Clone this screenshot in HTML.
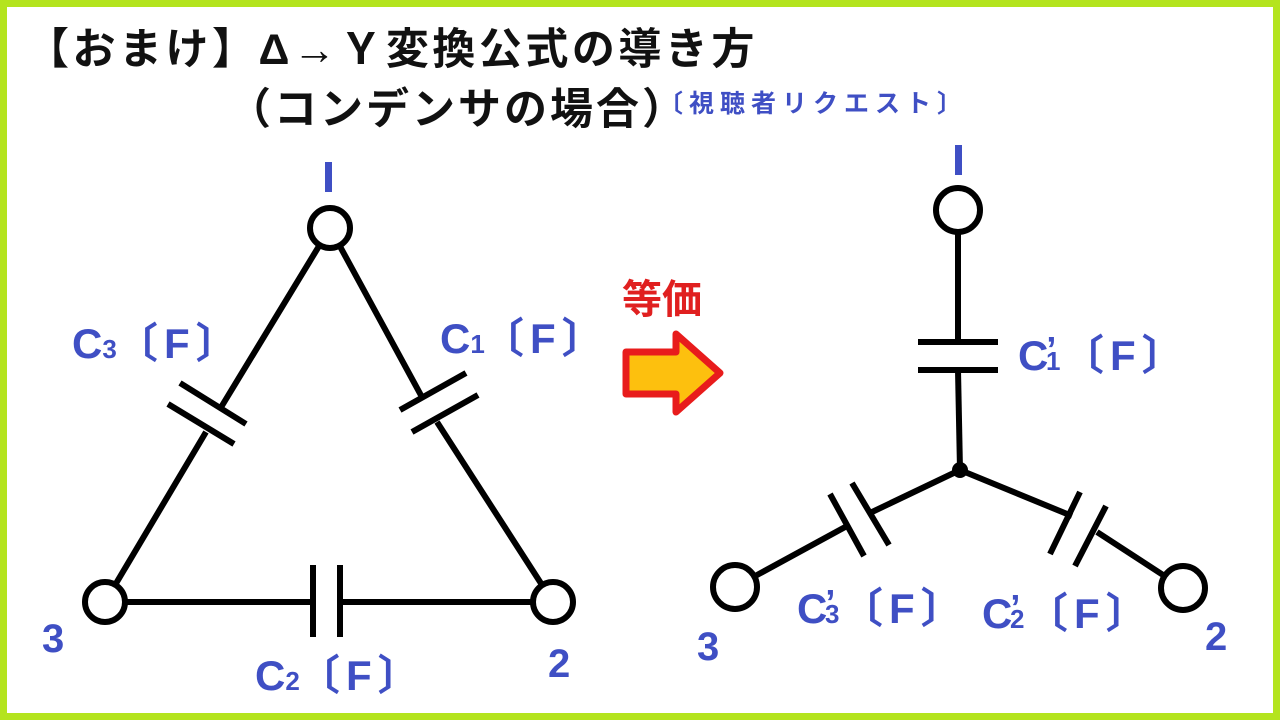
<!DOCTYPE html>
<html><head><meta charset="utf-8"><style>
body{margin:0;width:1280px;height:720px;overflow:hidden;background:#fff}
svg{display:block}
text{font-family:"Liberation Sans","Noto Sans CJK JP",sans-serif;font-weight:bold}
.b{fill:#3f4fc4}
</style></head><body>
<svg width="1280" height="720" viewBox="0 0 1280 720">
<rect x="3.5" y="3.5" width="1273" height="713" fill="#fff" stroke="#b4e41e" stroke-width="7"/>
<text x="26" y="64" font-size="43" letter-spacing="3.5" fill="#111">【おまけ】Δ→Ｙ変換公式の導き方</text>
<text x="228" y="124" font-size="43" letter-spacing="3" fill="#111">（コンデンサの場合）</text>
<text x="658" y="112" font-size="25" letter-spacing="6" class="b">〔視聴者リクエスト〕</text>
<g stroke="#000" stroke-width="6" fill="none" stroke-linecap="butt">
<line x1="330" y1="228" x2="220" y2="409"/><line x1="206" y1="432" x2="105" y2="602"/>
<line x1="180" y1="383" x2="246" y2="424"/><line x1="168" y1="404" x2="234" y2="444"/>
<line x1="330" y1="228" x2="423" y2="399"/><line x1="437" y1="422" x2="553" y2="602"/>
<line x1="400" y1="410" x2="466" y2="373"/><line x1="412" y1="432" x2="478" y2="395"/>
<line x1="105" y1="602" x2="313" y2="602"/><line x1="340" y1="602" x2="553" y2="602"/>
<line x1="313" y1="565" x2="313" y2="637"/><line x1="340" y1="565" x2="340" y2="637"/>
<circle cx="330" cy="228" r="20" fill="#fff"/>
<circle cx="105" cy="602" r="20" fill="#fff"/>
<circle cx="553" cy="602" r="20" fill="#fff"/>
<line x1="958" y1="210" x2="958" y2="342"/><line x1="958" y1="370" x2="960" y2="470"/>
<line x1="918" y1="342" x2="998" y2="342"/><line x1="918" y1="370" x2="998" y2="370"/>
<line x1="960" y1="470" x2="872" y2="512"/><line x1="847" y1="526" x2="735" y2="587"/>
<line x1="830" y1="494" x2="864" y2="556"/><line x1="852" y1="483" x2="889" y2="545"/>
<line x1="960" y1="470" x2="1072" y2="516"/><line x1="1097" y1="532" x2="1183" y2="588"/>
<line x1="1080" y1="492" x2="1050" y2="554"/><line x1="1106" y1="506" x2="1075" y2="566"/>
<circle cx="958" cy="210" r="22" fill="#fff"/>
<circle cx="735" cy="587" r="22" fill="#fff"/>
<circle cx="1183" cy="588" r="22" fill="#fff"/>
</g>
<circle cx="960" cy="470" r="8" fill="#000"/>
<g class="b">
<rect x="325" y="162" width="7" height="30"/>
<rect x="955" y="145" width="7" height="30"/>
<text x="42" y="652" font-size="40">3</text>
<text x="548" y="677" font-size="40">2</text>
<text x="697" y="660" font-size="40">3</text>
<text x="1205" y="650" font-size="40">2</text>
<text x="72" y="358" font-size="42">C<tspan font-size="26">3</tspan><tspan x="116" letter-spacing="6">〔F〕</tspan></text>
<text x="440" y="353" font-size="42">C<tspan font-size="26">1</tspan><tspan x="482" letter-spacing="6">〔F〕</tspan></text>
<text x="255" y="690" font-size="42">C<tspan font-size="26">2</tspan><tspan x="298" letter-spacing="6">〔F〕</tspan></text>
<text x="1018" y="370" font-size="42">C<tspan font-size="36" dx="-2" dy="-8">’</tspan><tspan font-size="26" x="1046" dy="8">1</tspan><tspan x="1062" letter-spacing="6">〔F〕</tspan></text>
<text x="797" y="623" font-size="42">C<tspan font-size="36" dx="-2" dy="-8">’</tspan><tspan font-size="26" x="825" dy="8">3</tspan><tspan x="841" letter-spacing="6">〔F〕</tspan></text>
<text x="982" y="628" font-size="42">C<tspan font-size="36" dx="-2" dy="-8">’</tspan><tspan font-size="26" x="1010" dy="8">2</tspan><tspan x="1026" letter-spacing="6">〔F〕</tspan></text>
</g>
<text x="622" y="313" font-size="40" fill="#e02020">等価</text>
<polygon points="626,352 676,352 676,334 720,373 676,412 676,394 626,394" fill="#fdc00e" stroke="#e81c1c" stroke-width="7" stroke-linejoin="round"/>
</svg>
</body></html>
